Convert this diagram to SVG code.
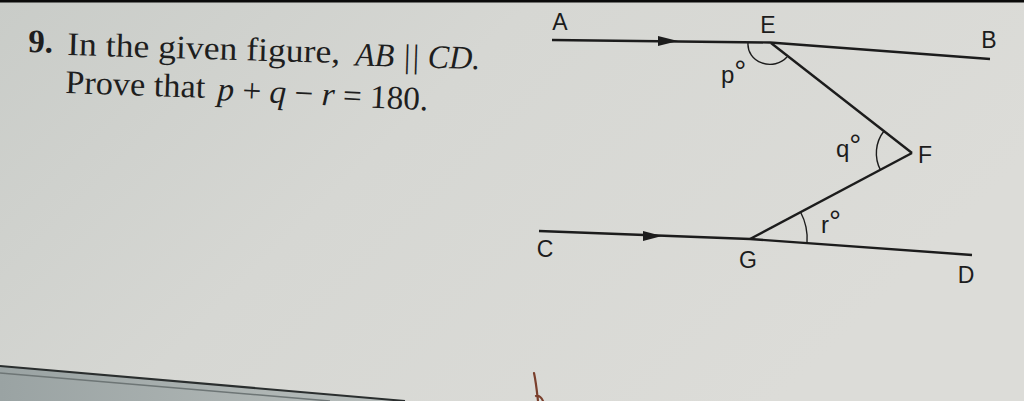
<svg xmlns="http://www.w3.org/2000/svg" width="1024" height="401" viewBox="0 0 1024 401">
  <defs>
    <linearGradient id="paper" x1="0" y1="0" x2="1" y2="0.4">
      <stop offset="0" stop-color="#c9ccc8"/>
      <stop offset="0.45" stop-color="#d6d7d3"/>
      <stop offset="1" stop-color="#dcdcd8"/>
    </linearGradient>
    <linearGradient id="edge" x1="0" y1="0" x2="1" y2="0">
      <stop offset="0" stop-color="#9aa3a3"/>
      <stop offset="1" stop-color="#b9bfbd"/>
    </linearGradient>
  </defs>
  <style>
    .ln { fill: none; stroke: #1c1c1c; stroke-width: 2.4; stroke-linejoin: round; }
    .arc { fill: none; stroke: #1c1c1c; stroke-width: 1.4; }
    .head { fill: #1c1c1c; }
    .lbl { font-family: "Liberation Sans", Arial, sans-serif; font-size: 23px; fill: #1c1c1c; text-anchor: middle; }
    .ang { font-family: "Liberation Sans", Arial, sans-serif; font-size: 24px; fill: #1c1c1c; }
    .q { font-family: "Liberation Serif", "Times New Roman", serif; font-size: 33px; fill: #1e1e1e; }
    .it { font-style: italic; }
  </style>

  <!-- paper background -->
  <rect x="0" y="0" width="1024" height="401" fill="url(#paper)"/>
  <rect x="0" y="0" width="1024" height="2.5" fill="#0a0a0a"/>
  <polygon points="0,366 405,401 0,401" fill="url(#edge)"/>
  <line x1="0" y1="366" x2="405" y2="401" stroke="#2a2e2e" stroke-width="2"/>
  <line x1="0" y1="373" x2="330" y2="401" stroke="#6d7575" stroke-width="1.5"/>
  <path d="M534,373 C536,382 537,392 538,401 M536,396 C539,395 542,398 543,401" fill="none" stroke="#7a3f2c" stroke-width="2.2" stroke-linecap="round"/>

  <!-- question text -->
  <g id="question">
    <text class="q" x="28" y="52" font-weight="bold" transform="rotate(1.7 28 52)">9.</text>
    <text class="q" x="67" y="55" textLength="273" lengthAdjust="spacingAndGlyphs" transform="rotate(1.7 67 55)">In the given figure,</text>
    <text class="q it" x="355" y="65.5" textLength="125" lengthAdjust="spacingAndGlyphs" transform="rotate(1.7 355 65.5)">AB || CD.</text>
    <text class="q" x="65" y="93" textLength="140" lengthAdjust="spacingAndGlyphs" transform="rotate(2 65 93)">Prove that</text>
    <text class="q" x="217" y="100" textLength="211" lengthAdjust="spacingAndGlyphs" transform="rotate(2.8 217 100)"><tspan class="it">p</tspan> + <tspan class="it">q</tspan> − <tspan class="it">r</tspan> = 180.</text>
  </g>

  <!-- connectors: lines of the figure -->
  <g id="connectors">
    <polyline id="line-AB" class="ln" points="552,40 770,42.5 990,59"/>
    <polygon class="head" points="658,36 678,41 658,46"/>
    <polyline id="line-CD" class="ln" points="539,231 750,239 972,255"/>
    <polygon class="head" points="643,231 662,236 643,241"/>
    <line id="line-EF" class="ln" x1="771" y1="43" x2="912" y2="153"/>
    <line id="line-FG" class="ln" x1="912" y1="153" x2="750" y2="239"/>
    <path id="arc-p" class="arc" d="M748,43 A22,20 0 0 0 787,57"/>
    <path id="arc-q" class="arc" d="M884,131 A36,36 0 0 0 880.5,170"/>
    <path id="arc-r" class="arc" d="M800.5,212 A57,57 0 0 1 807,243"/>
  </g>

  <!-- points / labels -->
  <g id="node-A"><text class="lbl" x="560" y="30">A</text></g>
  <g id="node-E"><text class="lbl" x="768" y="33">E</text></g>
  <g id="node-B"><text class="lbl" x="989" y="48">B</text></g>
  <g id="node-F"><text class="lbl" x="925" y="163">F</text></g>
  <g id="node-C"><text class="lbl" x="545" y="257">C</text></g>
  <g id="node-G"><text class="lbl" x="748" y="268">G</text></g>
  <g id="node-D"><text class="lbl" x="966" y="283">D</text></g>

  <g id="angle-p"><text class="ang" x="721" y="83">p<tspan font-size="30" dy="-2">°</tspan></text></g>
  <g id="angle-q"><text class="ang" x="836" y="157">q<tspan font-size="30" dy="-2">°</tspan></text></g>
  <g id="angle-r"><text class="ang" x="821" y="233">r<tspan font-size="30" dy="-2">°</tspan></text></g>
</svg>
